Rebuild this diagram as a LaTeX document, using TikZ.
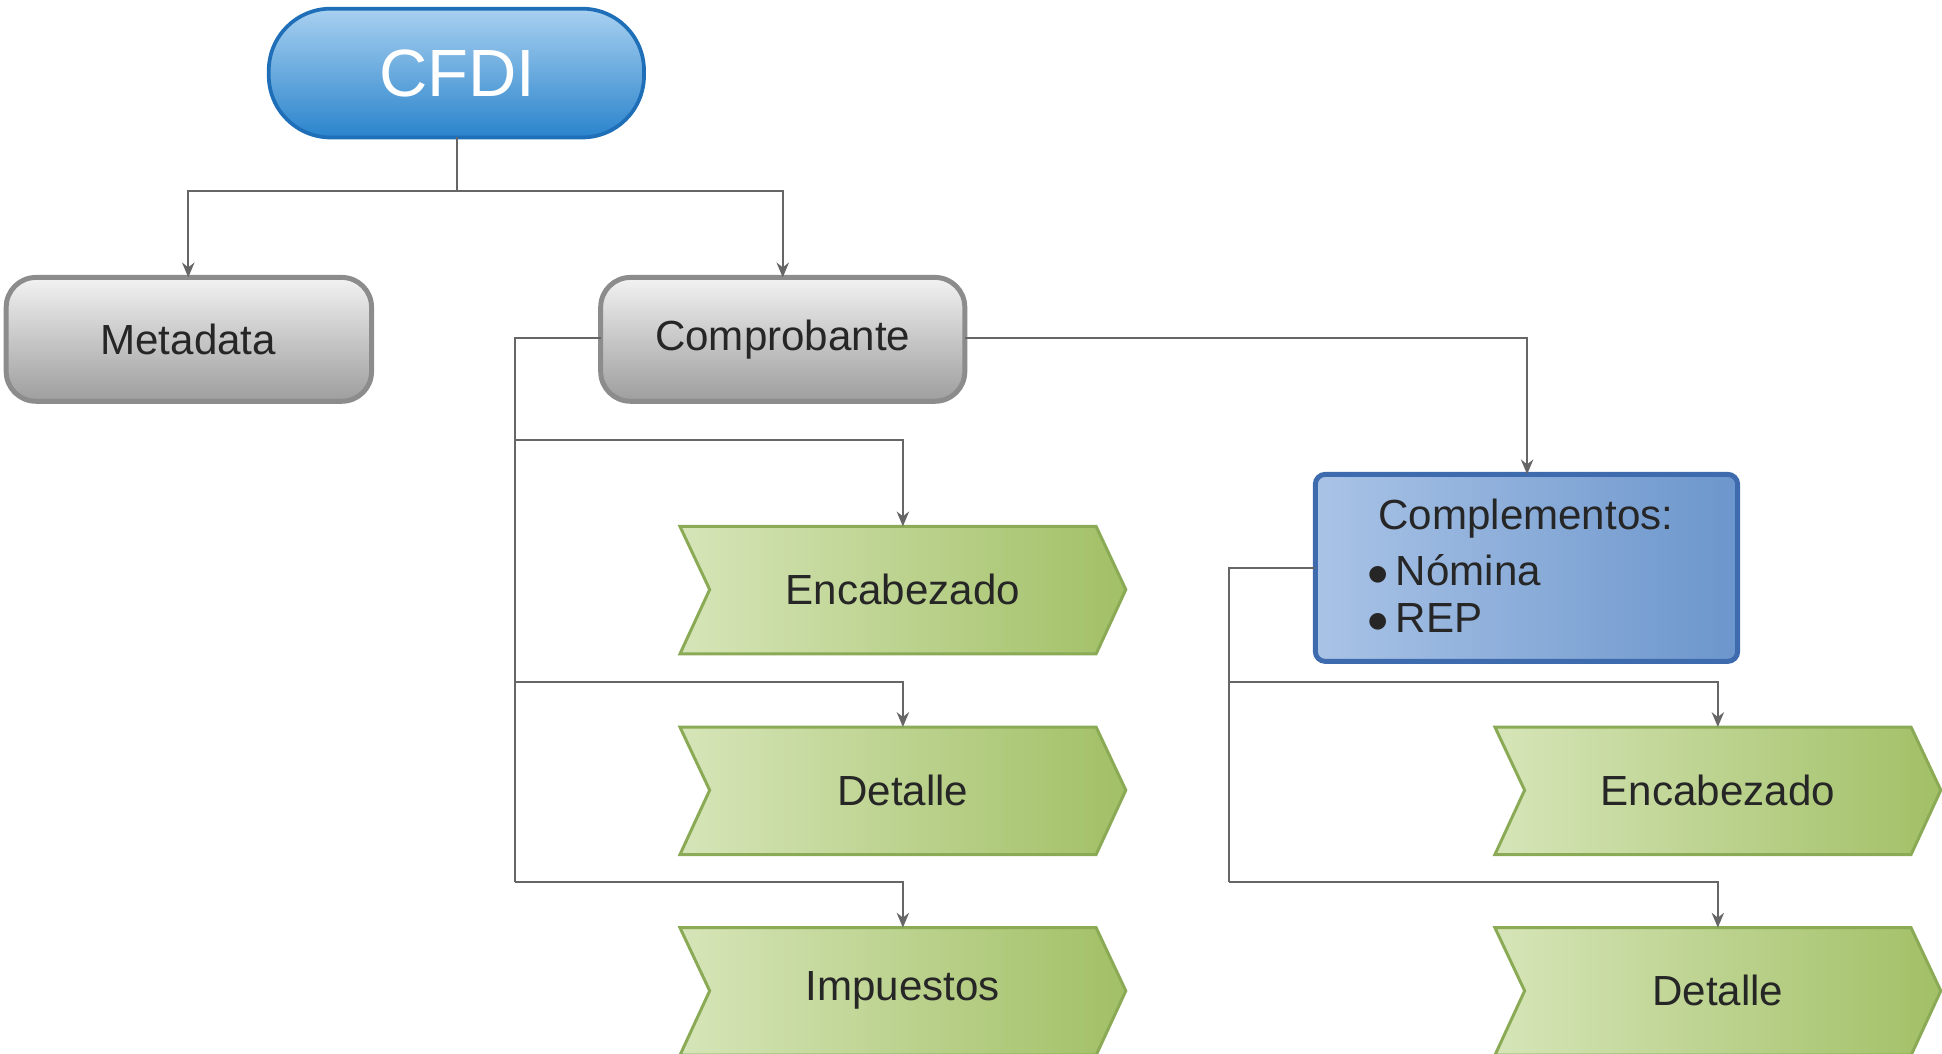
\documentclass[tikz,border=0pt]{standalone}
\usepackage{fontspec}
\setmainfont{Liberation Sans}
\usetikzlibrary{arrows.meta}
\definecolor{cfdiA}{HTML}{A8D0F0}\definecolor{cfdiB}{HTML}{2A84CC}\definecolor{cfdiD}{HTML}{1F6FB8}
\definecolor{cmpA}{HTML}{A9C3E6}\definecolor{cmpB}{HTML}{6C96CC}\definecolor{cmpD}{HTML}{3E6AAE}
\definecolor{grA}{HTML}{D6E5B8}\definecolor{grB}{HTML}{A2C066}\definecolor{grD}{HTML}{8AAA55}
\begin{document}
\begin{tikzpicture}[x=0.5pt,y=-0.5pt,
  conn/.style={draw=black!60,line width=0.8pt},
  arr/.style={conn,-{Stealth[length=6pt,width=5pt]}},
  grayb/.style={draw=black!45,line width=2pt,rounded corners=12pt,top color=white!95!black,bottom color=black!38,middle color=black!22},
  chev/.style={draw=grD,line width=1.2pt,left color=grA,right color=grB},
  lbl/.style={font=\fontsize{17}{20}\selectfont,text=black!85}]
\useasboundingbox (0,0) rectangle (1568,851);
% CFDI
\draw[draw=cfdiD,line width=1.5pt,rounded corners=25pt,top color=cfdiA,bottom color=cfdiB] (217,7) rectangle (520,111);
\node[font=\fontsize{27}{30}\selectfont,text=white] (cfdi) at (369,59) {CFDI};
\coordinate (cfdiBt) at (369,111);
% gray boxes
\draw[grayb] (5,224) rectangle (300,324);
\node[lbl] (meta) at (152,274) {Metadata};
\draw[grayb] (485,224) rectangle (779,324);
\node[lbl] (comp) at (632,274) {Comprobante};
\coordinate (metaT) at (152,224); \coordinate (compT) at (632,224);
\coordinate (compL) at (485,273); \coordinate (compR) at (779,273);
% Complementos
\draw[draw=cmpD,line width=2pt,rounded corners=4pt,left color=cmpA,right color=cmpB] (1062,383) rectangle (1403,534);
\node[lbl] (compl) at (1232,419) {Complementos:};
\node[lbl,anchor=west] (nom) at (1097,460) {$\bullet$\,Nómina};
\node[lbl,anchor=west] (rep) at (1097,499) {$\bullet$\,REP};
\coordinate (complT) at (1233,383); \coordinate (complL) at (1062,459);
% chevrons
\newcommand{\chevron}[4]{%
 \draw[chev] (#1,#2) -- (#1+336,#2) -- (#1+360,#2+51) -- (#1+336,#2+103) -- (#1,#2+103) -- (#1+24,#2+51) -- cycle;
 \node[lbl] (#3) at (#1+180,#2+51) {#4};
 \coordinate (#3T) at (#1+180,#2);}
\chevron{549}{425}{enc}{Encabezado}
\chevron{549}{587}{det}{Detalle}
\chevron{549}{749}{imp}{Impuestos}
\chevron{1207}{587}{enc2}{Encabezado}
\chevron{1207}{749}{det2}{Detalle}
% connectors
\draw[arr] (cfdiBt) -- (369,154) -| (metaT);
\draw[arr] (cfdiBt) -- (369,154) -| (compT);
\draw[conn] (compL) -- (416,273) -- (416,712);
\draw[arr] (416,355) -| (encT);
\draw[arr] (416,551) -| (detT);
\draw[arr] (416,712) -| (impT);
\draw[arr] (compR) -| (complT);
\draw[conn] (complL) -- (992,459) -- (992,712);
\draw[arr] (992,551) -| (enc2T);
\draw[arr] (992,712) -| (det2T);
\end{tikzpicture}
\end{document}
